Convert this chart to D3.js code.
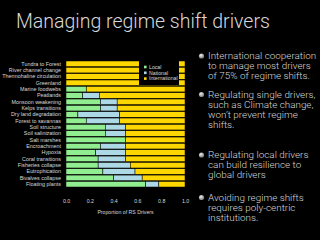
<!DOCTYPE html>
<html>
<head>
<meta charset="utf-8">
<script src="https://cdn.jsdelivr.net/npm/d3@7"></script>
<style>
  body { margin: 0; background: #000; }
  svg { display: block; }
</style>
</head>
<body>
<svg width="320" height="240"></svg>
<script>
// regime shifts, top to bottom
var categories = ["Tundra to Forest", "River channel change", "Thermohaline circulation", "Greenland",
  "Marine foodwebs", "Peatlands", "Monsoon weakening", "Kelps transitions", "Dry land degradation",
  "Forest to savannas", "Soil structure", "Soil salinization", "Salt marshes", "Encroachment",
  "Hypoxia", "Coral transitions", "Fisheries collapse", "Eutrophication", "Bivalves collapse",
  "Floating plants"];
var local = [0, 0, 0, 0, 0.17, 0.14, 0.29, 0.29, 0.10, 0.17, 0.33, 0.33, 0.5, 0.29, 0.25, 0.27, 0.27, 0.31, 0.40, 0.67];
var national = [0, 0, 0, 0, 0, 0.14, 0.14, 0.14, 0.35, 0.28, 0.17, 0.17, 0, 0.21, 0.25, 0.23, 0.27, 0.27, 0.24, 0.11];
var international = [1, 1, 1, 1, 0.83, 0.72, 0.57, 0.57, 0.55, 0.55, 0.5, 0.5, 0.5, 0.5, 0.5, 0.5, 0.46, 0.42, 0.36, 0.22];
var seriesNames = ["Local", "National", "International"];
var xTicks = [0, 0.2, 0.4, 0.6, 0.8, 1.0];

var bullets = [
  ["International cooperation", "to manage most drivers", "of 75% of regime shifts."],
  ["Regulating single drivers,", "such as Climate change,", "won\u2019t prevent regime", "shifts."],
  ["Regulating local drivers", "can build resilience to", "global drivers"],
  ["Avoiding regime shifts", "requires poly-centric", "institutions."]
];

var svg = d3.select("svg");
var textCol = "#d8d8d8";

// title
svg.append("text")
  .attr("x", 16)
  .attr("y", 28)
  .attr("font-family", "Roboto, 'Liberation Sans', sans-serif")
  .attr("font-weight", 300)
  .attr("font-size", 19.5)
  .attr("fill", textCol)
  .text("Managing regime shift drivers");

var rows = categories.map(function(c, i) {
  return {cat: c, Local: local[i], National: national[i], International: international[i]};
});

var x = d3.scaleLinear().domain([0, 1]).range([66, 185]);
var y = d3.scaleBand().domain(categories).range([61, 187]).paddingInner(0.12);
var color = d3.scaleOrdinal().domain(seriesNames).range(["#90ee90", "#add8e6", "#ffd700"]);

var stack = d3.stack().keys(seriesNames)(rows);

svg.append("g")
  .selectAll("g")
  .data(stack)
  .enter().append("g")
    .attr("fill", function(d) { return color(d.key); })
  .selectAll("rect")
  .data(function(d) { return d; })
  .enter().append("rect")
    .attr("x", function(d) { return x(d[0]); })
    .attr("y", function(d) { return y(d.data.cat); })
    .attr("width", function(d) { return x(d[1]) - x(d[0]); })
    .attr("height", y.bandwidth())
    .attr("stroke", "#000")
    .attr("stroke-width", 0.5);

// category labels
svg.append("g")
  .selectAll("text")
  .data(categories)
  .enter().append("text")
    .attr("x", 61)
    .attr("y", function(d) { return y(d) + y.bandwidth() / 2; })
    .attr("dy", "0.35em")
    .attr("text-anchor", "end")
    .attr("font-family", "'Liberation Sans', Arial, sans-serif")
    .attr("font-size", 5.4)
    .attr("fill", textCol)
    .text(function(d) { return d; });

// x axis (labels only)
var xAxis = svg.append("g")
  .attr("transform", "translate(0,196)")
  .call(d3.axisBottom(x).tickValues(xTicks).tickFormat(d3.format(".1f")).tickSize(0));
xAxis.select(".domain").remove();
xAxis.selectAll("text")
  .attr("font-family", "'Liberation Sans', Arial, sans-serif")
  .attr("font-size", 5.2)
  .attr("fill", textCol);

svg.append("text")
  .attr("x", x(0.5))
  .attr("y", 214)
  .attr("text-anchor", "middle")
  .attr("font-family", "'Liberation Sans', Arial, sans-serif")
  .attr("font-size", 5.2)
  .attr("fill", textCol)
  .text("Proportion of RS Drivers");

// legend
var legend = svg.append("g");
legend.append("rect")
  .attr("x", 139)
  .attr("y", 59)
  .attr("width", 40)
  .attr("height", 26)
  .attr("fill", "#000");
var li = legend.selectAll("g")
  .data(seriesNames)
  .enter().append("g")
  .attr("transform", function(d, i) { return "translate(0," + (67 + i * 5.8) + ")"; });
li.append("rect")
  .attr("x", 144)
  .attr("y", -1.3)
  .attr("width", 2.6)
  .attr("height", 2.6)
  .attr("fill", color);
li.append("text")
  .attr("x", 149)
  .attr("dy", "0.35em")
  .attr("font-family", "'Liberation Sans', Arial, sans-serif")
  .attr("font-size", 5.2)
  .attr("fill", textCol)
  .text(function(d) { return d; });

// bullet points on the right
var grad = svg.append("defs").append("radialGradient")
  .attr("id", "bul").attr("cx", "40%").attr("cy", "35%").attr("r", "65%");
grad.append("stop").attr("offset", "0%").attr("stop-color", "#f0f0f0");
grad.append("stop").attr("offset", "100%").attr("stop-color", "#777");

var paraY = [56, 94.5, 155, 197.5];
var lineH = 10;
bullets.forEach(function(lines, p) {
  svg.append("circle")
    .attr("cx", 201.5)
    .attr("cy", paraY[p])
    .attr("r", 2.6)
    .attr("fill", "url(#bul)");
  lines.forEach(function(t, j) {
    svg.append("text")
      .attr("x", 208)
      .attr("y", paraY[p] + j * lineH)
      .attr("dy", "0.35em")
      .attr("font-family", "Roboto, 'Liberation Sans', sans-serif")
      .attr("font-weight", 300)
      .attr("font-size", 9.9)
      .attr("fill", textCol)
      .text(t);
  });
});
</script>
</body>
</html>
